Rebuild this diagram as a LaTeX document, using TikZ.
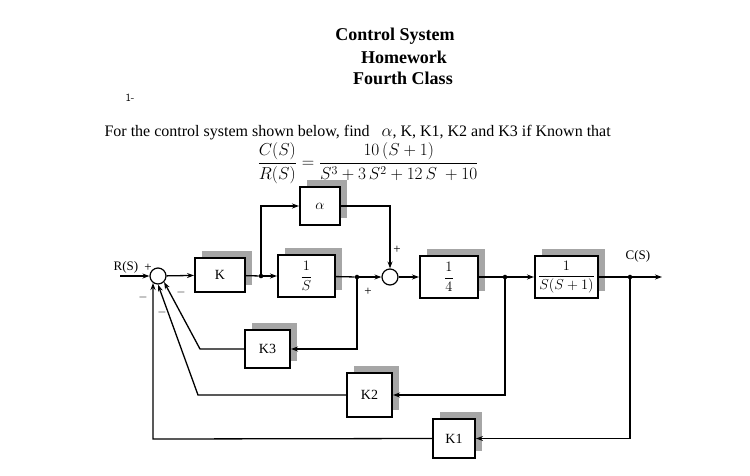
\documentclass[tikz,border=0pt]{standalone}
\usepackage{amsmath}
\usepackage{fontspec}
\setmainfont{Liberation Serif}
\usetikzlibrary{arrows.meta}
\begin{document}
\begin{tikzpicture}[x=1pt,y=-1pt,
  blk/.style={draw,line width=2pt,fill=white,minimum width=#1,inner sep=0pt,font=\fontsize{14}{14}\selectfont},
  sumc/.style={draw,line width=1.2pt,circle,minimum size=16pt,inner sep=0pt,fill=white},
  dotp/.style={circle,fill,inner sep=1.6pt},
  wire/.style={line width=1.3pt},
  arr/.style={wire,-{Stealth[length=7pt,width=5pt]}},
  sgn/.style={font=\fontsize{13}{13}\selectfont,inner sep=1pt}]
\useasboundingbox (0,0) rectangle (750,475);
\fill[white] (0,0) rectangle (750,475);
% titles
\node[font=\bfseries\fontsize{18}{18}\selectfont] (t1) at (395,36) {Control System};
\node[font=\bfseries\fontsize{18}{18}\selectfont] (t2) at (404,57) {Homework};
\node[font=\bfseries\fontsize{18}{18}\selectfont] (t3) at (403,78) {Fourth Class};
\node[font=\sffamily\fontsize{11}{11}\selectfont] (n1) at (130,98) {1-};
\node[anchor=west,font=\fontsize{16}{16}\selectfont] (q) at (101,133) {For the control system shown below, find \ \ $\alpha$, K, K1, K2 and K3 if Known that};
\node[font=\fontsize{17}{17}\selectfont] (eq) at (368,163) {$\dfrac{C(S)}{R(S)}=\dfrac{10\,(S+1)}{S^3+3\,S^2+12\,S\ +10}$};
% shadows
\foreach \a/\b/\c/\d in {195/258/245/292, 278/255/335/297, 300/187/340/225, 420/256/478/298, 535/256/598/298, 245/330/290/368, 347/373/392/417, 433/419/475/458}
  \fill[gray!70] (\a+7,\b-7) rectangle (\c+7,\d-7);
% blocks
\node[blk=50pt,minimum height=34pt] (K) at (220,275) {K};
\node[blk=57pt,minimum height=42pt] (I) at (306.5,276) {$\dfrac{1}{S}$};
\node[blk=40pt,minimum height=38pt] (A) at (320,206) {$\alpha$};
\node[blk=58pt,minimum height=42pt] (Q) at (449,277) {$\dfrac{1}{4}$};
\node[blk=63pt,minimum height=42pt] (P) at (566.5,277) {$\dfrac{1}{S(S+1)}$};
\node[blk=45pt,minimum height=38pt] (K3) at (267.5,349) {K3};
\node[blk=45pt,minimum height=44pt] (K2) at (369.5,395) {K2};
\node[blk=42pt,minimum height=39pt] (K1) at (454,438.5) {K1};
% sums
\node[sumc] (S1) at (158,276) {};
\node[sumc] (S2) at (390,277) {};
% branch points
\node[dotp] (b1) at (261,276) {};
\node[dotp] (b2) at (357,277) {};
\node[dotp] (b3) at (505,277) {};
\node[dotp] (b4) at (630,277) {};
\coordinate (rin) at (120,276);
\coordinate (cout) at (662,277);
% forward
\draw[arr] (rin) -- (S1);
\draw[arr] (S1) -- (K);
\draw[wire] (K) -- (b1);
\draw[arr] (b1) -- (I);
\draw[arr] (b1) |- (A);
\draw[arr] (A.east) -| (S2.north);
\draw[wire] (I) -- (b2);
\draw[arr] (b2) -- (S2);
\draw[arr] (S2) -- (Q);
\draw[wire] (Q) -- (b3);
\draw[arr] (b3) -- (P);
\draw[wire] (P) -- (b4);
\draw[arr] (b4) -- (cout);
% feedback
\draw[arr] (b2) |- (K3.east);
\draw[arr] (b3) |- (K2.east);
\draw[arr] (b4) |- (K1.east);
\draw[arr] (K3.west) -- (200,349) -- (S1.south east);
\draw[arr] (K2.west) -- (198,395) -- (S1.south);
\draw[arr] (K1.west) -- (153,439) -- (153,283);
% labels
\node[font=\fontsize{13}{13}\selectfont] (rl) at (126,267) {R(S)};
\node[sgn] (p1) at (148,268) {+};
\node[font=\fontsize{13}{13}\selectfont] (cl) at (638,256) {C(S)};
\node[sgn] (m1) at (143,297) {$-$};
\node[sgn] (m2) at (181,292) {$-$};
\node[sgn] (m3) at (162,312) {$-$};
\node[sgn] (p2) at (397,250) {+};
\node[sgn] (p3) at (368,292) {+};
\end{tikzpicture}
\end{document}
